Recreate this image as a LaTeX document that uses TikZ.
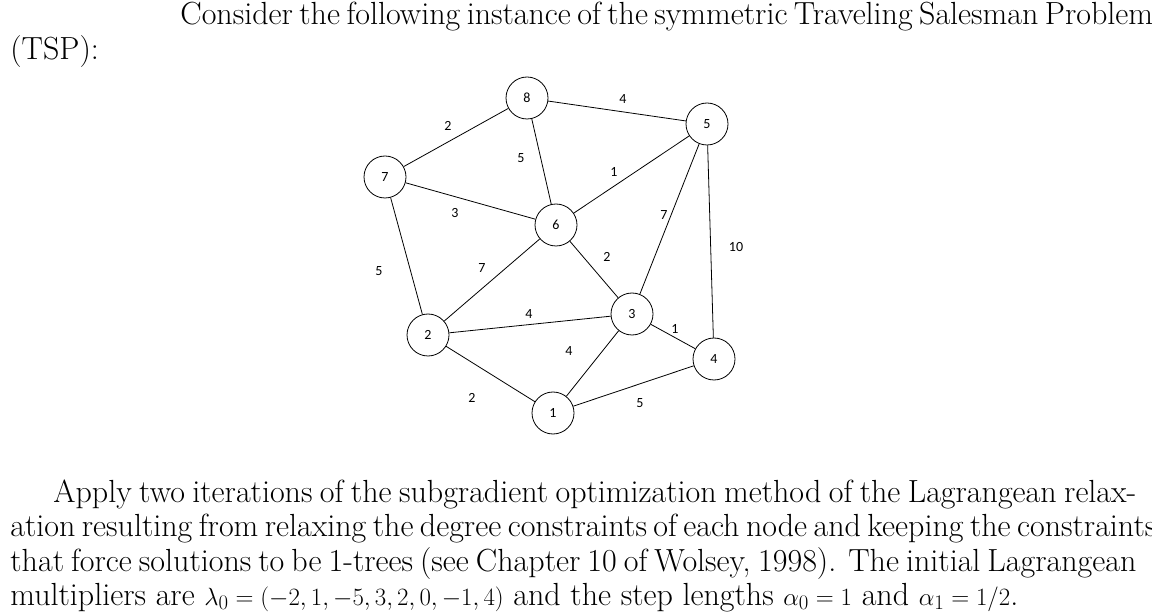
\documentclass[tikz,border=0pt]{standalone}
\usepackage{fontspec}
\newfontfamily\nodefont{Carlito}
\begin{document}
\begin{tikzpicture}[x=1pt,y=-1pt,line width=0.8pt,
  v/.style={circle,draw,minimum size=42pt,inner sep=0pt,font=\nodefont\fontsize{14}{14}\selectfont},
  w/.style={font=\nodefont\fontsize{14}{14}\selectfont,inner sep=1pt},
  ln/.style={anchor=base west,inner sep=0pt,font=\fontsize{32}{38}\selectfont}]
\useasboundingbox (0,0) rectangle (1152,612);
\node[ln] (t1) at (180,25) {\makebox[956pt][s]{Consider the following instance of the symmetric Traveling Salesman Problem}};
\node[ln] (t2) at (10,60) {(TSP):};
\node[v] (n8) at (527,98) {8};
\node[v] (n5) at (707,124) {5};
\node[v] (n7) at (385,177) {7};
\node[v] (n6) at (556,225) {6};
\node[v] (n3) at (632,314) {3};
\node[v] (n4) at (714,359) {4};
\node[v] (n2) at (428,335) {2};
\node[v] (n1) at (553,413) {1};
\draw (n8)--(n5) (n7)--(n8) (n8)--(n6) (n6)--(n5) (n7)--(n6) (n5)--(n3) (n5)--(n4)
 (n6)--(n3) (n7)--(n2) (n6)--(n2) (n2)--(n3) (n3)--(n4) (n3)--(n1) (n2)--(n1) (n1)--(n4);
\node[w] (l1) at (623,99) {4};
\node[w] (l2) at (448,126) {2};
\node[w] (l3) at (521,158) {5};
\node[w] (l4) at (614,172) {1};
\node[w] (l5) at (455,213) {3};
\node[w] (l6) at (664,215) {7};
\node[w] (l7) at (736,247) {10};
\node[w] (l8) at (607,257) {2};
\node[w] (l9) at (379,271) {5};
\node[w] (l10) at (482,268) {7};
\node[w] (l11) at (529,314) {4};
\node[w] (l12) at (675,329) {1};
\node[w] (l13) at (569,351) {4};
\node[w] (l14) at (472,398) {2};
\node[w] (l15) at (640,403) {5};
\node[ln] (b1) at (53,502) {\makebox[1083pt][s]{Apply two iterations of the subgradient optimization method of the Lagrangean relax-}};
\node[ln] (b2) at (10,536) {\makebox[1126pt][s]{ation resulting from relaxing the degree constraints of each node and keeping the constraints}};
\node[ln] (b3) at (10,571) {\makebox[1126pt][s]{that force solutions to be 1-trees (see Chapter 10 of Wolsey, 1998). The initial Lagrangean}};
\node[ln] (b4) at (10,605) {multipliers are $\lambda_0=(-2,1,-5,3,2,0,-1,4)$ and the step lengths $\alpha_0=1$ and $\alpha_1=1/2$.};
\end{tikzpicture}
\end{document}
